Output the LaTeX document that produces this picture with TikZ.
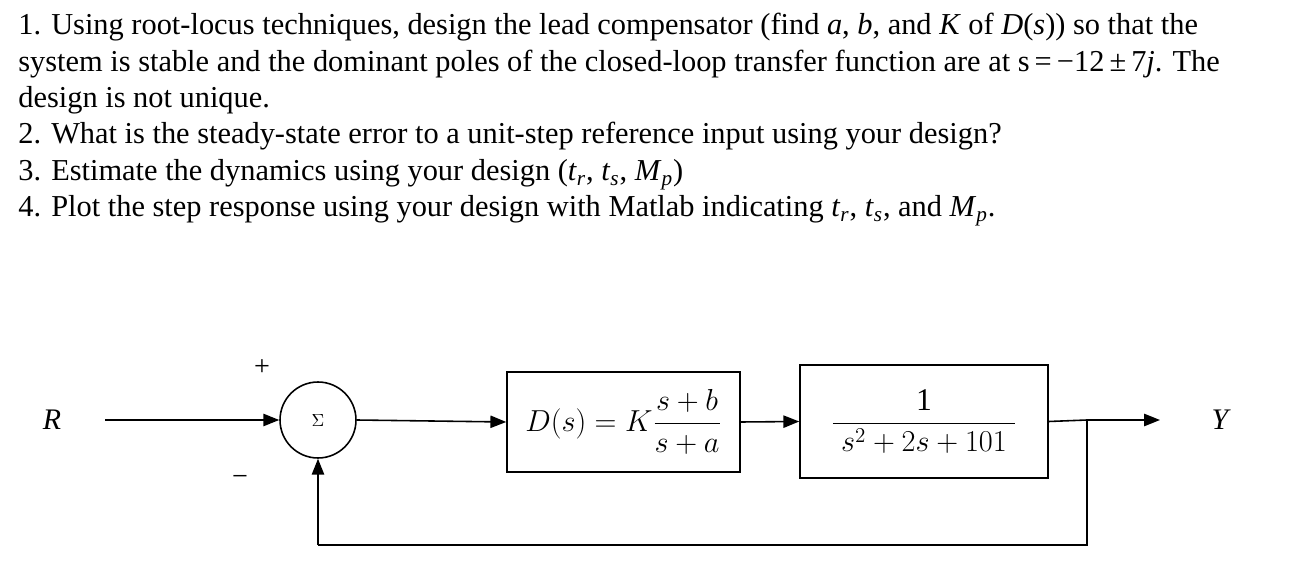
\documentclass[tikz,border=0pt]{standalone}
\usepackage{fontspec}
\setmainfont{Liberation Serif}
\usetikzlibrary{arrows.meta}
\newcommand{\ti}[1]{\textit{#1}}
\newcommand{\sbs}[1]{\textsubscript{\textit{#1}}}
\begin{document}
\begin{tikzpicture}[x=0.02cm,y=-0.02cm,
  txt/.style={anchor=base west,inner sep=0,font=\fontsize{17.3}{20}\selectfont},
  blk/.style={draw,line width=0.9pt,inner sep=0},
  sig/.style={line width=0.9pt,-{Triangle[length=9pt,width=7pt]}},
  ln/.style={line width=0.9pt},
  lab/.style={font=\fontsize{17}{20}\selectfont\itshape}]
\useasboundingbox (0,0) rectangle (1299,584);
\node[txt] (l1) at (18,35) {1. Using root-locus techniques, design the lead compensator (find \ti{a}, \ti{b}, and \ti{K} of \ti{D}(\ti{s})) so that the};
\node[txt] (l2) at (18,72) {system is stable and the dominant poles of the closed-loop transfer function are at s\,=\,−12\,±\,7\ti{j}. The};
\node[txt] (l3) at (18,108) {design is not unique.};
\node[txt] (l4) at (18,144) {2. What is the steady-state error to a unit-step reference input using your design?};
\node[txt] (l5) at (18,181) {3. Estimate the dynamics using your design (\ti{t}\sbs{r}, \ti{t}\sbs{s}, \ti{M}\sbs{p})};
\node[txt] (l6) at (18,217) {4. Plot the step response using your design with Matlab indicating \ti{t}\sbs{r}, \ti{t}\sbs{s}, and \ti{M}\sbs{p}.};

\node[lab] (R) at (52,420) {R};
\node[lab] (Y) at (1220,420) {Y};
\coordinate (rin) at (105,420);
\node[draw,circle,line width=0.9pt,minimum size=1.52cm,inner sep=0] (sumc) at (318,420) {$\Sigma$};
\node[font=\fontsize{16}{18}\selectfont] (plus) at (262,368) {+};
\node[font=\fontsize{16}{18}\selectfont] (minus) at (240,480) {−};
\node[blk,minimum width=4.66cm,minimum height=2cm] (D) at (623.5,422) {\fontsize{18}{20}\selectfont$\displaystyle D(s)=K\frac{s+b}{s+a}$};
\node[blk,minimum width=4.96cm,minimum height=2.26cm] (G) at (924,421.5) {\fontsize{18}{20}\selectfont$\displaystyle\frac{\mathrm{1}}{\;s^2+2s+101\;}$};
\coordinate (br) at (1087,420);
\coordinate (yout) at (1160,420);
\coordinate (fb1) at (1087,545);
\coordinate (fb2) at (318,545);
\draw[sig] (rin) -- (sumc.west);
\draw[sig] (sumc.east) -- (D.west);
\draw[sig] (D.east) -- (G.west);
\draw[ln] (G.east) -- (br);
\draw[sig] (br) -- (yout);
\draw[ln] (br) -- (fb1) -- (fb2);
\draw[sig] (fb2) -- (sumc.south);
\end{tikzpicture}
\end{document}
